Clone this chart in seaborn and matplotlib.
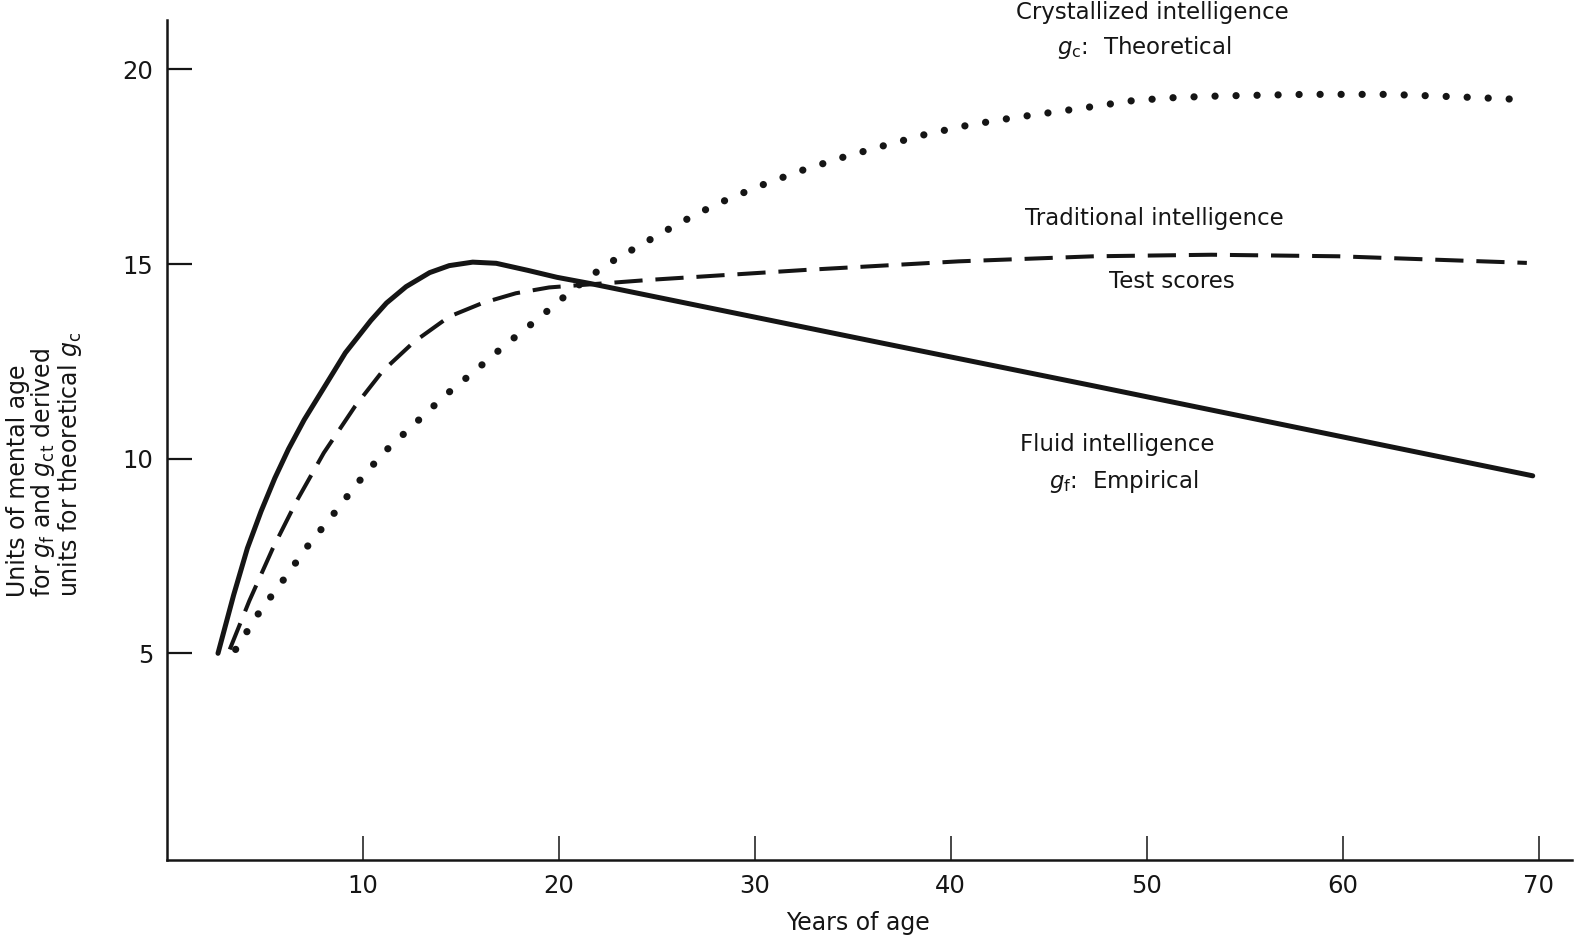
"""
Fluid vs crystallized vs traditional intelligence across the life span.
"""

import matplotlib
matplotlib.use("Agg")
import matplotlib.pyplot as plt
import pandas as pd
import seaborn as sns


# Fluid intelligence g_f (solid)
age_fluid = [2.6, 3.4, 4.1, 4.8, 5.5, 6.2, 7.0, 8.1, 9.1, 10.4, 11.2, 12.2,
             13.4, 14.4, 15.6, 16.8, 18.4, 19.9, 21.6, 28.7, 36.5, 47.3, 69.7]
fluid = [5.0, 6.5, 7.7, 8.65, 9.5, 10.25, 11.0, 11.9, 12.72, 13.55, 14.0,
         14.42, 14.78, 14.96, 15.05, 15.02, 14.84, 14.66, 14.5, 13.77, 12.97,
         11.87, 9.56]

# Traditional intelligence test scores (dashed)
age_trad = [3.2, 4.2, 5.4, 6.6, 8.0, 9.6, 11.0, 12.6, 14.4, 16.1, 17.8, 19.5,
            24.8, 32.6, 40.4, 47.3, 53.3, 59.8, 69.4]
trad = [5.1, 6.35, 7.7, 8.9, 10.15, 11.35, 12.25, 13.0, 13.65, 14.0, 14.25, 14.4,
        14.6, 14.85, 15.07, 15.2, 15.24, 15.2, 15.03]

# Crystallized intelligence g_c (dotted)
age_cryst = [3.5, 4.7, 5.9, 7.2, 8.5, 9.7, 11.0, 12.6, 14.2, 15.7, 17.3, 18.95,
             20.6, 22.4, 24.2, 26.1, 28.0, 30.2, 32.3, 34.4, 36.5, 38.7, 40.9, 43.2,
             45.2, 47.3, 49.3, 51.5, 53.8, 56.0, 58.1, 60.2, 62.3, 64.6, 66.7, 69.0]
cryst = [5.1, 6.05, 6.86, 7.77, 8.58, 9.36, 10.13, 10.88, 11.63, 12.25, 12.94, 13.6,
         14.3, 14.98, 15.5, 16.04, 16.53, 17.0, 17.39, 17.73, 18.03, 18.33, 18.57, 18.76,
         18.9, 19.05, 19.2, 19.28, 19.32, 19.34, 19.36, 19.36, 19.36, 19.32, 19.28, 19.23]

x_ticks = [10, 20, 30, 40, 50, 60, 70]
y_ticks = [5, 10, 15, 20]

INK = "#151515"


def main():
    sns.set_style("ticks")
    plt.rcParams["font.family"] = ["DejaVu Sans"]
    plt.rcParams["mathtext.fontset"] = "dejavusans"

    fig = plt.figure(figsize=(15.91, 9.40), dpi=100)
    ax = fig.add_axes([0.105, 0.0851, 0.883, 0.8936])

    df_f = pd.DataFrame({"age": age_fluid, "value": fluid})
    df_t = pd.DataFrame({"age": age_trad, "value": trad})
    df_c = pd.DataFrame({"age": age_cryst, "value": cryst})

    sns.lineplot(data=df_f, x="age", y="value", ax=ax, color=INK, lw=3.6,
                 sort=False, estimator=None, solid_capstyle="round",
                 solid_joinstyle="round")
    sns.lineplot(data=df_t, x="age", y="value", ax=ax, color=INK, lw=2.9,
                 sort=False, estimator=None, linestyle=(0, (7, 3.2)))
    sns.lineplot(data=df_c, x="age", y="value", ax=ax, color=INK, lw=5.2,
                 sort=False, estimator=None, linestyle=(0, (0.01, 2.9)),
                 dash_capstyle="round")

    ax.set_xlim(0, 71.7)
    ax.set_ylim(-0.31, 21.27)
    ax.set_xticks(x_ticks)
    ax.set_yticks(y_ticks)
    ax.set_ylabel("")

    for side in ["top", "right"]:
        ax.spines[side].set_visible(False)
    for side in ["left", "bottom"]:
        ax.spines[side].set_linewidth(1.8)
        ax.spines[side].set_color(INK)

    ax.tick_params(axis="x", direction="in", length=17, width=1.1, pad=10,
                   labelsize=17.5, colors=INK)
    ax.tick_params(axis="y", direction="in", length=18, width=1.6, pad=10,
                   labelsize=17.5, colors=INK)

    ax.set_xlabel("Years of age", fontsize=17, color=INK)
    ax.xaxis.set_label_coords(0.4915, -0.061)

    fig.text(
        45 / 1591, 1 - 597 / 940,
        "Units of mental age\n"
        r"for $g_{\mathrm{f}}$ and $g_{\mathrm{ct}}$ derived" "\n"
        r"units for theoretical $g_{\mathrm{c}}$",
        fontsize=17, color=INK, rotation=90, ha="center", va="bottom",
        multialignment="left", linespacing=0.95,
    )

    # Curve labels
    txt = dict(fontsize=16.5, color=INK, ha="center", va="center", clip_on=False)
    ax.text(50.3, 21.47, "Crystallized intelligence", **txt)
    ax.text(49.85, 20.57, r"$g_{\mathrm{c}}$:  Theoretical", **txt)
    ax.text(50.4, 16.16, "Traditional intelligence", **txt)
    ax.text(51.3, 14.56, "Test scores", **txt)
    ax.text(48.5, 10.36, "Fluid intelligence", **txt)
    ax.text(48.8, 9.41, r"$g_{\mathrm{f}}$:  Empirical", **txt)

    fig.savefig("out.png", dpi=100, facecolor="white")


if __name__ == "__main__":
    main()
